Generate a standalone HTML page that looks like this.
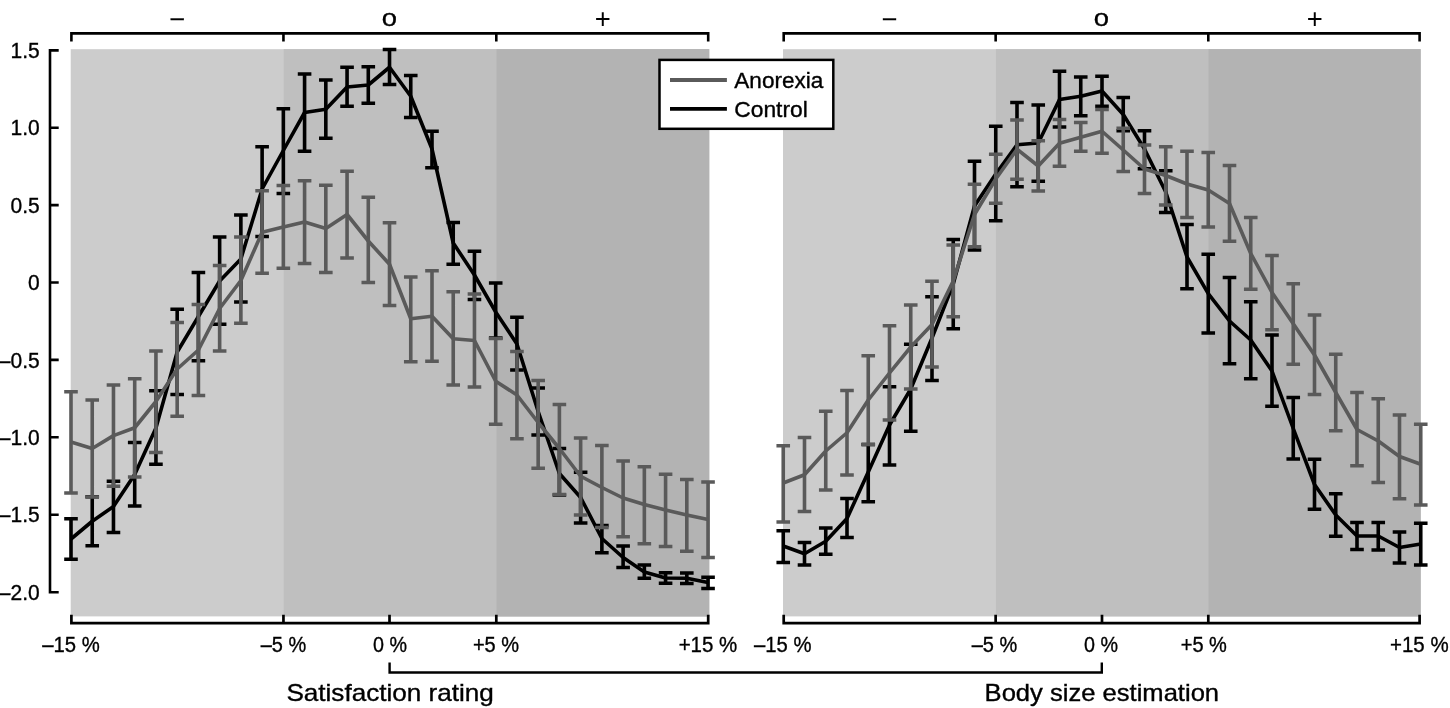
<!DOCTYPE html>
<html><head><meta charset="utf-8"><title>Satisfaction rating and body size estimation</title>
<style>
html,body{margin:0;padding:0;background:#fff}
svg{display:block}
text{font-family:"Liberation Sans",sans-serif;fill:#000;stroke:#000;stroke-width:.35px}
.t{font-size:22.7px}
.T{font-size:23.4px}
.L{font-size:21.6px}
</style></head><body>
<svg width="1450" height="708" viewBox="0 0 1450 708">
<rect width="1450" height="708" fill="#fff"/>
<rect x="70.70" y="49.2" width="638.50" height="567.2" fill="#cccccc"/>
<rect x="283.70" y="49.2" width="425.50" height="567.2" fill="#bfbfbf"/>
<rect x="496.50" y="49.2" width="212.70" height="567.2" fill="#b3b3b3"/>
<path d="M71.00 518.75V559.25M92.23 496.75V545.75M113.47 481.25V532.50M134.70 442.50V506.00M155.94 390.75V464.25M177.18 309.25V394.50M198.41 272.50V360.75M219.64 237.00V324.25M240.88 215.00V302.00M262.12 146.75V236.50M283.35 108.75V193.50M304.58 74.00V151.25M325.82 80.00V138.25M347.06 67.25V106.25M368.29 66.75V103.25M389.52 49.50V84.50M410.76 75.50V117.50M432.00 131.25V167.75M453.23 222.50V264.25M474.46 251.25V299.50M495.70 283.00V338.00M516.93 317.25V370.00M538.17 388.00V435.00M559.40 448.50V495.00M580.64 472.25V523.00M601.88 525.50V552.75M623.11 546.00V567.50M644.35 565.00V578.25M665.58 572.75V583.25M686.81 573.00V583.50M708.05 577.25V588.50" stroke="#000" stroke-width="3.6" fill="none"/>
<path d="M64.20 518.75H77.80M64.20 559.25H77.80M85.44 496.75H99.03M85.44 545.75H99.03M106.67 481.25H120.27M106.67 532.50H120.27M127.90 442.50H141.50M127.90 506.00H141.50M149.14 390.75H162.74M149.14 464.25H162.74M170.38 309.25H183.98M170.38 394.50H183.98M191.61 272.50H205.21M191.61 360.75H205.21M212.84 237.00H226.44M212.84 324.25H226.44M234.08 215.00H247.68M234.08 302.00H247.68M255.31 146.75H268.92M255.31 236.50H268.92M276.55 108.75H290.15M276.55 193.50H290.15M297.78 74.00H311.38M297.78 151.25H311.38M319.02 80.00H332.62M319.02 138.25H332.62M340.25 67.25H353.86M340.25 106.25H353.86M361.49 66.75H375.09M361.49 103.25H375.09M382.72 49.50H396.32M382.72 84.50H396.32M403.96 75.50H417.56M403.96 117.50H417.56M425.19 131.25H438.80M425.19 167.75H438.80M446.43 222.50H460.03M446.43 264.25H460.03M467.66 251.25H481.26M467.66 299.50H481.26M488.90 283.00H502.50M488.90 338.00H502.50M510.13 317.25H523.73M510.13 370.00H523.73M531.37 388.00H544.97M531.37 435.00H544.97M552.61 448.50H566.20M552.61 495.00H566.20M573.84 472.25H587.44M573.84 523.00H587.44M595.08 525.50H608.67M595.08 552.75H608.67M616.31 546.00H629.91M616.31 567.50H629.91M637.55 565.00H651.14M637.55 578.25H651.14M658.78 572.75H672.38M658.78 583.25H672.38M680.01 573.00H693.61M680.01 583.50H693.61M701.25 577.25H714.85M701.25 588.50H714.85" stroke="#000" stroke-width="3.3" fill="none"/>
<polyline points="71.00,539.00 92.23,521.25 113.47,506.50 134.70,474.50 155.94,428.00 177.18,352.00 198.41,316.50 219.64,281.00 240.88,259.00 262.12,189.00 283.35,150.50 304.58,112.50 325.82,109.25 347.06,87.00 368.29,85.00 389.52,67.25 410.76,96.25 432.00,149.00 453.23,243.00 474.46,275.00 495.70,312.00 516.93,344.00 538.17,411.50 559.40,473.50 580.64,497.50 601.88,538.50 623.11,557.50 644.35,572.00 665.58,578.00 686.81,578.25 708.05,582.50" stroke="#000" stroke-width="3.6" fill="none" stroke-linejoin="round"/>
<path d="M71.00 391.75V493.00M92.23 400.00V497.00M113.47 385.00V486.25M134.70 378.75V477.00M155.94 351.00V452.50M177.18 322.50V416.25M198.41 304.50V395.50M219.64 265.50V351.00M240.88 237.00V323.25M262.12 190.75V273.25M283.35 185.50V268.25M304.58 180.75V263.50M325.82 185.25V272.50M347.06 171.25V258.00M368.29 197.25V282.50M389.52 222.75V305.50M410.76 277.00V361.75M432.00 270.75V361.25M453.23 291.75V385.00M474.46 294.00V387.00M495.70 338.50V424.25M516.93 351.50V438.75M538.17 380.50V468.25M559.40 404.50V494.50M580.64 438.00V515.00M601.88 445.50V527.50M623.11 461.00V536.75M644.35 466.75V543.75M665.58 474.25V546.50M686.81 479.50V551.25M708.05 482.00V557.50" stroke="#5a5a5a" stroke-width="3.6" fill="none"/>
<path d="M64.20 391.75H77.80M64.20 493.00H77.80M85.44 400.00H99.03M85.44 497.00H99.03M106.67 385.00H120.27M106.67 486.25H120.27M127.90 378.75H141.50M127.90 477.00H141.50M149.14 351.00H162.74M149.14 452.50H162.74M170.38 322.50H183.98M170.38 416.25H183.98M191.61 304.50H205.21M191.61 395.50H205.21M212.84 265.50H226.44M212.84 351.00H226.44M234.08 237.00H247.68M234.08 323.25H247.68M255.31 190.75H268.92M255.31 273.25H268.92M276.55 185.50H290.15M276.55 268.25H290.15M297.78 180.75H311.38M297.78 263.50H311.38M319.02 185.25H332.62M319.02 272.50H332.62M340.25 171.25H353.86M340.25 258.00H353.86M361.49 197.25H375.09M361.49 282.50H375.09M382.72 222.75H396.32M382.72 305.50H396.32M403.96 277.00H417.56M403.96 361.75H417.56M425.19 270.75H438.80M425.19 361.25H438.80M446.43 291.75H460.03M446.43 385.00H460.03M467.66 294.00H481.26M467.66 387.00H481.26M488.90 338.50H502.50M488.90 424.25H502.50M510.13 351.50H523.73M510.13 438.75H523.73M531.37 380.50H544.97M531.37 468.25H544.97M552.61 404.50H566.20M552.61 494.50H566.20M573.84 438.00H587.44M573.84 515.00H587.44M595.08 445.50H608.67M595.08 527.50H608.67M616.31 461.00H629.91M616.31 536.75H629.91M637.55 466.75H651.14M637.55 543.75H651.14M658.78 474.25H672.38M658.78 546.50H672.38M680.01 479.50H693.61M680.01 551.25H693.61M701.25 482.00H714.85M701.25 557.50H714.85" stroke="#5a5a5a" stroke-width="3.3" fill="none"/>
<polyline points="71.00,442.00 92.23,448.50 113.47,435.60 134.70,427.75 155.94,401.50 177.18,369.00 198.41,350.00 219.64,308.50 240.88,280.50 262.12,232.25 283.35,227.00 304.58,222.00 325.82,228.50 347.06,214.50 368.29,241.00 389.52,264.25 410.76,318.75 432.00,316.25 453.23,338.75 474.46,340.50 495.70,381.25 516.93,395.00 538.17,422.50 559.40,448.50 580.64,476.25 601.88,487.50 623.11,498.00 644.35,504.50 665.58,510.00 686.81,515.00 708.05,519.50" stroke="#5a5a5a" stroke-width="3.6" fill="none" stroke-linejoin="round"/>
<path d="M71.40 41.5V33.4H708.20V41.5M283.45 33.4V41.5M496.30 33.4V41.5" stroke="#000" stroke-width="2.6" fill="none"/>
<path d="M71.40 614.8V623.2H708.20V614.8M283.45 623.2V614.8M389.52 623.2V614.8M496.30 623.2V614.8" stroke="#000" stroke-width="2.7" fill="none"/>
<rect x="783.00" y="49.2" width="637.60" height="567.2" fill="#cccccc"/>
<rect x="995.90" y="49.2" width="424.70" height="567.2" fill="#bfbfbf"/>
<rect x="1208.50" y="49.2" width="212.10" height="567.2" fill="#b3b3b3"/>
<path d="M783.25 530.75V562.50M804.50 542.50V565.00M825.75 528.00V554.25M847.00 498.50V537.50M868.25 444.50V501.75M889.50 386.75V465.00M910.75 344.25V431.25M932.00 296.75V380.50M953.25 239.50V328.75M974.50 161.25V250.00M995.75 126.25V220.75M1017.00 102.50V186.75M1038.25 105.00V181.25M1059.50 71.25V127.00M1080.75 77.00V115.75M1102.00 76.25V106.25M1123.25 97.50V130.75M1144.50 130.75V168.75M1165.75 170.75V212.50M1187.00 224.50V288.75M1208.25 254.25V333.00M1229.50 277.50V363.75M1250.75 301.75V378.75M1272.00 335.00V406.25M1293.25 397.50V459.00M1314.50 459.25V509.25M1335.75 493.75V536.25M1357.00 522.50V549.50M1378.25 522.50V550.00M1399.50 532.00V563.00M1420.75 523.25V565.00" stroke="#000" stroke-width="3.6" fill="none"/>
<path d="M776.45 530.75H790.05M776.45 562.50H790.05M797.70 542.50H811.30M797.70 565.00H811.30M818.95 528.00H832.55M818.95 554.25H832.55M840.20 498.50H853.80M840.20 537.50H853.80M861.45 444.50H875.05M861.45 501.75H875.05M882.70 386.75H896.30M882.70 465.00H896.30M903.95 344.25H917.55M903.95 431.25H917.55M925.20 296.75H938.80M925.20 380.50H938.80M946.45 239.50H960.05M946.45 328.75H960.05M967.70 161.25H981.30M967.70 250.00H981.30M988.95 126.25H1002.55M988.95 220.75H1002.55M1010.20 102.50H1023.80M1010.20 186.75H1023.80M1031.45 105.00H1045.05M1031.45 181.25H1045.05M1052.70 71.25H1066.30M1052.70 127.00H1066.30M1073.95 77.00H1087.55M1073.95 115.75H1087.55M1095.20 76.25H1108.80M1095.20 106.25H1108.80M1116.45 97.50H1130.05M1116.45 130.75H1130.05M1137.70 130.75H1151.30M1137.70 168.75H1151.30M1158.95 170.75H1172.55M1158.95 212.50H1172.55M1180.20 224.50H1193.80M1180.20 288.75H1193.80M1201.45 254.25H1215.05M1201.45 333.00H1215.05M1222.70 277.50H1236.30M1222.70 363.75H1236.30M1243.95 301.75H1257.55M1243.95 378.75H1257.55M1265.20 335.00H1278.80M1265.20 406.25H1278.80M1286.45 397.50H1300.05M1286.45 459.00H1300.05M1307.70 459.25H1321.30M1307.70 509.25H1321.30M1328.95 493.75H1342.55M1328.95 536.25H1342.55M1350.20 522.50H1363.80M1350.20 549.50H1363.80M1371.45 522.50H1385.05M1371.45 550.00H1385.05M1392.70 532.00H1406.30M1392.70 563.00H1406.30M1413.95 523.25H1427.55M1413.95 565.00H1427.55" stroke="#000" stroke-width="3.3" fill="none"/>
<polyline points="783.25,546.00 804.50,553.75 825.75,541.25 847.00,518.50 868.25,472.00 889.50,425.00 910.75,389.00 932.00,338.00 953.25,284.00 974.50,206.00 995.75,174.00 1017.00,144.75 1038.25,143.00 1059.50,99.50 1080.75,96.25 1102.00,91.00 1123.25,114.50 1144.50,149.00 1165.75,192.00 1187.00,257.00 1208.25,293.60 1229.50,321.00 1250.75,340.00 1272.00,371.00 1293.25,428.50 1314.50,484.50 1335.75,515.00 1357.00,536.00 1378.25,536.00 1399.50,547.50 1420.75,544.00" stroke="#000" stroke-width="3.6" fill="none" stroke-linejoin="round"/>
<path d="M783.25 445.75V522.00M804.50 437.50V511.50M825.75 411.25V490.00M847.00 390.50V475.00M868.25 355.75V444.50M889.50 325.75V420.00M910.75 305.00V389.00M932.00 281.25V367.00M953.25 245.00V316.75M974.50 184.25V246.75M995.75 154.25V203.25M1017.00 120.00V179.25M1038.25 140.75V191.00M1059.50 119.50V166.25M1080.75 122.50V151.25M1102.00 109.50V153.25M1123.25 128.25V171.50M1144.50 145.00V193.50M1165.75 146.75V205.00M1187.00 151.25V217.50M1208.25 152.50V227.00M1229.50 165.50V241.25M1250.75 217.50V289.25M1272.00 255.50V329.75M1293.25 283.75V364.25M1314.50 315.00V394.50M1335.75 354.25V430.75M1357.00 392.50V465.75M1378.25 398.75V482.50M1399.50 415.00V498.75M1420.75 424.25V505.00" stroke="#5a5a5a" stroke-width="3.6" fill="none"/>
<path d="M776.45 445.75H790.05M776.45 522.00H790.05M797.70 437.50H811.30M797.70 511.50H811.30M818.95 411.25H832.55M818.95 490.00H832.55M840.20 390.50H853.80M840.20 475.00H853.80M861.45 355.75H875.05M861.45 444.50H875.05M882.70 325.75H896.30M882.70 420.00H896.30M903.95 305.00H917.55M903.95 389.00H917.55M925.20 281.25H938.80M925.20 367.00H938.80M946.45 245.00H960.05M946.45 316.75H960.05M967.70 184.25H981.30M967.70 246.75H981.30M988.95 154.25H1002.55M988.95 203.25H1002.55M1010.20 120.00H1023.80M1010.20 179.25H1023.80M1031.45 140.75H1045.05M1031.45 191.00H1045.05M1052.70 119.50H1066.30M1052.70 166.25H1066.30M1073.95 122.50H1087.55M1073.95 151.25H1087.55M1095.20 109.50H1108.80M1095.20 153.25H1108.80M1116.45 128.25H1130.05M1116.45 171.50H1130.05M1137.70 145.00H1151.30M1137.70 193.50H1151.30M1158.95 146.75H1172.55M1158.95 205.00H1172.55M1180.20 151.25H1193.80M1180.20 217.50H1193.80M1201.45 152.50H1215.05M1201.45 227.00H1215.05M1222.70 165.50H1236.30M1222.70 241.25H1236.30M1243.95 217.50H1257.55M1243.95 289.25H1257.55M1265.20 255.50H1278.80M1265.20 329.75H1278.80M1286.45 283.75H1300.05M1286.45 364.25H1300.05M1307.70 315.00H1321.30M1307.70 394.50H1321.30M1328.95 354.25H1342.55M1328.95 430.75H1342.55M1350.20 392.50H1363.80M1350.20 465.75H1363.80M1371.45 398.75H1385.05M1371.45 482.50H1385.05M1392.70 415.00H1406.30M1392.70 498.75H1406.30M1413.95 424.25H1427.55M1413.95 505.00H1427.55" stroke="#5a5a5a" stroke-width="3.3" fill="none"/>
<polyline points="783.25,483.00 804.50,474.75 825.75,451.00 847.00,432.75 868.25,400.00 889.50,373.00 910.75,347.00 932.00,324.50 953.25,281.00 974.50,214.50 995.75,179.00 1017.00,149.25 1038.25,166.00 1059.50,143.25 1080.75,137.25 1102.00,131.25 1123.25,150.00 1144.50,169.00 1165.75,175.50 1187.00,184.00 1208.25,190.00 1229.50,203.50 1250.75,253.50 1272.00,292.50 1293.25,323.75 1314.50,355.00 1335.75,392.50 1357.00,429.50 1378.25,441.00 1399.50,456.50 1420.75,464.25" stroke="#5a5a5a" stroke-width="3.6" fill="none" stroke-linejoin="round"/>
<path d="M783.70 41.5V33.4H1419.60V41.5M995.65 33.4V41.5M1208.30 33.4V41.5" stroke="#000" stroke-width="2.6" fill="none"/>
<path d="M783.70 614.8V623.2H1419.60V614.8M995.65 623.2V614.8M1102.00 623.2V614.8M1208.30 623.2V614.8" stroke="#000" stroke-width="2.7" fill="none"/>
<path d="M58.7 50.4H50V592.3H58.7M50 127.7H58.7M50 205.1H58.7M50 282.5H58.7M50 359.9H58.7M50 437.3H58.7M50 514.7H58.7" stroke="#000" stroke-width="2.6" fill="none"/>
<text transform="translate(39.7 58.0) scale(.925 1)" text-anchor="end" class="t">1.5</text>
<text transform="translate(39.7 135.3) scale(.925 1)" text-anchor="end" class="t">1.0</text>
<text transform="translate(39.7 212.7) scale(.925 1)" text-anchor="end" class="t">0.5</text>
<text transform="translate(39.7 290.1) scale(.925 1)" text-anchor="end" class="t">0</text>
<text transform="translate(39.7 367.5) scale(.925 1)" text-anchor="end" class="t">–0.5</text>
<text transform="translate(39.7 444.9) scale(.925 1)" text-anchor="end" class="t">–1.0</text>
<text transform="translate(39.7 522.3) scale(.925 1)" text-anchor="end" class="t">–1.5</text>
<text transform="translate(39.7 599.9) scale(.925 1)" text-anchor="end" class="t">–2.0</text>
<text x="71.0" y="651.6" text-anchor="middle" class="t" textLength="57.5" lengthAdjust="spacingAndGlyphs">–15 %</text>
<text x="283.5" y="651.6" text-anchor="middle" class="t" textLength="45.5" lengthAdjust="spacingAndGlyphs">–5 %</text>
<text x="390.0" y="651.6" text-anchor="middle" class="t" textLength="34" lengthAdjust="spacingAndGlyphs">0 %</text>
<text x="496.0" y="651.6" text-anchor="middle" class="t" textLength="46.2" lengthAdjust="spacingAndGlyphs">+5 %</text>
<text x="708.0" y="651.6" text-anchor="middle" class="t" textLength="58.7" lengthAdjust="spacingAndGlyphs">+15 %</text>
<text x="782.7" y="651.6" text-anchor="middle" class="t" textLength="57.5" lengthAdjust="spacingAndGlyphs">–15 %</text>
<text x="994.5" y="651.6" text-anchor="middle" class="t" textLength="45.5" lengthAdjust="spacingAndGlyphs">–5 %</text>
<text x="1101.0" y="651.6" text-anchor="middle" class="t" textLength="34" lengthAdjust="spacingAndGlyphs">0 %</text>
<text x="1203.8" y="651.6" text-anchor="middle" class="t" textLength="46.2" lengthAdjust="spacingAndGlyphs">+5 %</text>
<text x="1419.3" y="651.6" text-anchor="middle" class="t" textLength="58.7" lengthAdjust="spacingAndGlyphs">+15 %</text>
<path d="M389.6 662.5V672.5H1101.8V662.5" stroke="#000" stroke-width="2.4" fill="none"/>
<text x="286.4" y="701.3" class="T" textLength="207.5" lengthAdjust="spacingAndGlyphs">Satisfaction rating</text>
<text x="984.6" y="701.3" class="T" textLength="234.5" lengthAdjust="spacingAndGlyphs">Body size estimation</text>
<text transform="translate(389.3 26) scale(1.17 1)" text-anchor="middle" class="T">o</text>
<text transform="translate(1101.3 26) scale(1.17 1)" text-anchor="middle" class="T">o</text>
<text x="177.3" y="25.4" text-anchor="middle" class="T">–</text>
<text x="889.4" y="25.4" text-anchor="middle" class="T">–</text>
<text x="602.8" y="28.2" text-anchor="middle" style="font-size:27.5px;stroke:none">+</text>
<text x="1314.8" y="28.2" text-anchor="middle" style="font-size:27.5px;stroke:none">+</text>
<rect x="659.5" y="59.9" width="173.8" height="68.9" fill="#fff" stroke="#000" stroke-width="2.5"/>
<path d="M670 80H726.9" stroke="#5a5a5a" stroke-width="3.8"/>
<path d="M670 108.8H726.9" stroke="#000" stroke-width="3.8"/>
<text x="734.3" y="88" class="L" textLength="89" lengthAdjust="spacingAndGlyphs">Anorexia</text>
<text x="734.3" y="116.8" class="L" textLength="73.5" lengthAdjust="spacingAndGlyphs">Control</text>
</svg>
</body></html>
